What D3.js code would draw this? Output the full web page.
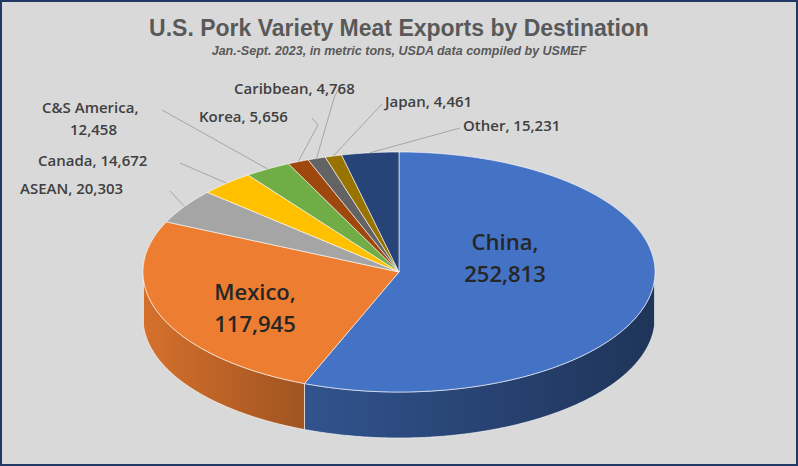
<!DOCTYPE html>
<html><head><meta charset="utf-8">
<script src="https://cdn.jsdelivr.net/npm/d3@7"></script>
<style>body{margin:0;background:#fff}svg{display:block;font-family:"Open Sans","Liberation Sans",Arial,sans-serif}</style>
</head><body>
<svg id="c" width="798" height="466"></svg>
<script>
var names = ["China", "Mexico", "ASEAN", "Canada", "C&S America", "Korea", "Caribbean", "Japan", "Other"];
var tons = [252813, 117945, 20303, 14672, 12458, 5656, 4768, 4461, 15231];
var tops = ["#4472c4", "#ed7d31", "#a5a5a5", "#ffc000", "#70ad47", "#9e480e", "#636363", "#997300", "#264478"];

var svg = d3.select("#c");
svg.append("rect").attr("x", 1).attr("y", 1).attr("width", 796).attr("height", 464)
  .attr("fill", "#d9d9d9").attr("stroke", "#1f3864").attr("stroke-width", 2);

svg.append("text").attr("x", 399).attr("y", 36).attr("text-anchor", "middle")
  .attr("font-family", "'Liberation Sans', Arial, sans-serif")
  .attr("font-size", 23).attr("font-weight", "bold").attr("fill", "#595959")
  .text("U.S. Pork Variety Meat Exports by Destination");
svg.append("text").attr("x", 399).attr("y", 55).attr("text-anchor", "middle")
  .attr("font-family", "'Liberation Sans', Arial, sans-serif")
  .attr("font-size", 12.5).attr("font-style", "italic").attr("font-weight", "bold").attr("fill", "#595959")
  .text("Jan.-Sept. 2023, in metric tons, USDA data compiled  by USMEF");

var cx = 399, cy = 272, rx = 256, ry = 120, depth = 46;
var pie = d3.pie().sort(null).value(function(d) { return d; });
var arcs = pie(tons);
var fmt = d3.format(",");

// small perspective skew so the front slices look like the reference
function warp(t) { return t + 0.06 * Math.sin(t); }
function pt(t, dy) { var w = warp(t); return [cx + rx * Math.sin(w), cy - ry * Math.cos(w) + (dy || 0)]; }
function rim(a0, a1, dy) {
  var n = Math.max(2, Math.ceil((a1 - a0) / 0.01)), out = [];
  for (var i = 0; i <= n; i++) out.push(pt(a0 + (a1 - a0) * i / n, dy));
  return out;
}

var defs = svg.append("defs");
arcs.forEach(function(a, i) {
  var s = Math.max(a.startAngle, Math.PI / 2), e = Math.min(a.endAngle, 3 * Math.PI / 2);
  if (e <= s) return;
  var g = defs.append("linearGradient").attr("id", "g" + i).attr("x1", "0").attr("x2", "1");
  var c = d3.color(tops[i]);
  g.append("stop").attr("offset", "0").attr("stop-color", i === 0 ? c.darker(0.9) : c.darker(0.3));
  g.append("stop").attr("offset", "1").attr("stop-color", i === 0 ? c.darker(2.2) : c.darker(1.1));
  var p = rim(s, e, 0).concat(rim(s, e, depth).reverse());
  svg.append("path").attr("d", d3.line()(p) + "Z").attr("fill", "url(#g" + i + ")")
    .attr("stroke", "#fff").attr("stroke-width", 0.6);
});
arcs.forEach(function(a, i) {
  var p = [[cx, cy]].concat(rim(a.startAngle, a.endAngle, 0));
  svg.append("path").attr("d", d3.line()(p) + "Z").attr("fill", tops[i])
    .attr("stroke", "#fff").attr("stroke-width", 0.6);
});

[[0, 505, 250], [1, 255, 300]].forEach(function(l) {
  var t = svg.append("text").attr("x", l[1]).attr("y", l[2]).attr("text-anchor", "middle")
    .attr("font-size", 22).attr("font-weight", 600).attr("fill", "#262626");
  t.append("tspan").attr("x", l[1]).text(names[l[0]] + ",");
  t.append("tspan").attr("x", l[1]).attr("dy", 32).text(fmt(tons[l[0]]));
});

var outer = [
  [2, 20, 194, [170, 191], null],
  [3, 38, 166, [180, 163], null],
  [4, 42, 113, [162, 110], null],
  [5, 199, 122, [312, 118], [318, 125]],
  [6, 234, 94, [338, 90], [334, 98]],
  [7, 385, 107, [382, 104], null],
  [8, 463, 131, [460, 128], null]
];
outer.forEach(function(o) {
  var i = o[0], a = arcs[i], m = pt((a.startAngle + a.endAngle) / 2, 0);
  var pts = [o[3]]; if (o[4]) pts.push(o[4]); pts.push(m);
  svg.append("path").attr("d", d3.line()(pts)).attr("fill", "none").attr("stroke", "#a6a6a6").attr("stroke-width", 1);
  var t = svg.append("text").attr("x", o[1]).attr("y", o[2]).attr("font-size", 15).attr("font-weight", 600).attr("fill", "#404040");
  if (i === 4) {
    t.append("tspan").attr("x", o[1]).text(names[i] + ",");
    t.append("tspan").attr("x", o[1] + 28).attr("dy", 22).text(fmt(tons[i]));
  } else t.text(names[i] + ", " + fmt(tons[i]));
});
</script>
</body></html>
